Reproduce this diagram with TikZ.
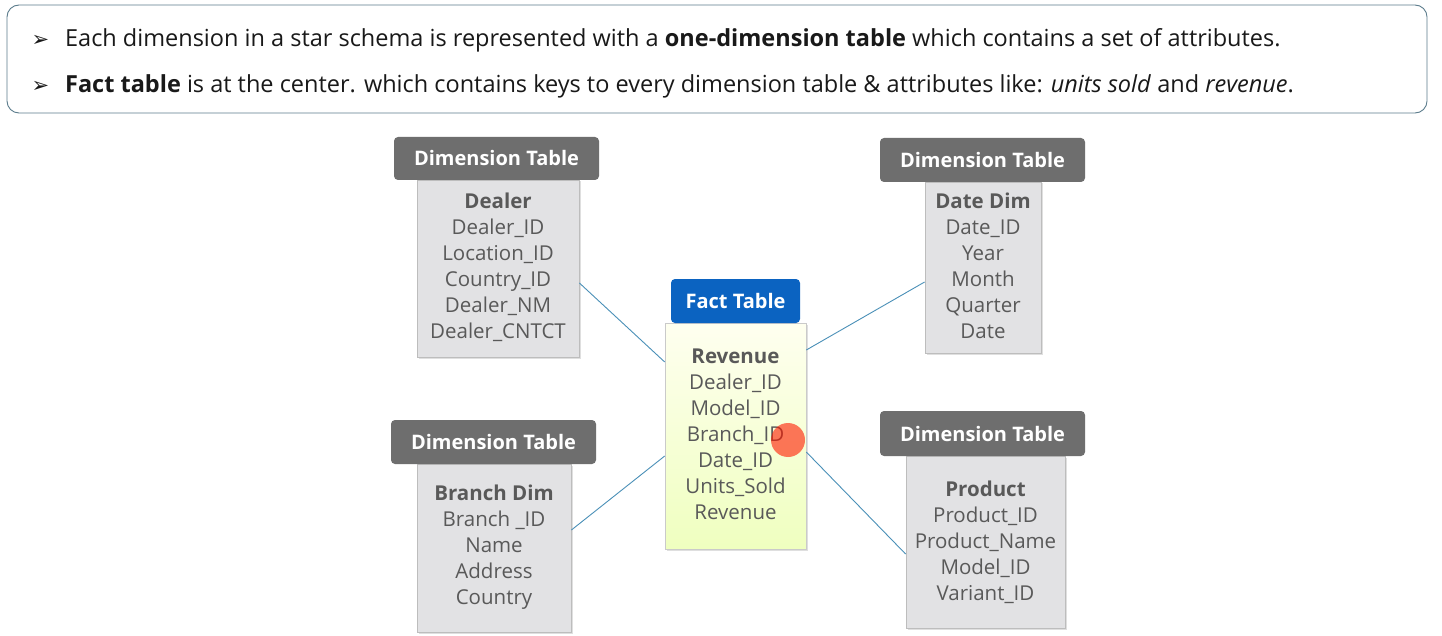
\documentclass[tikz,border=0pt]{standalone}
\usepackage{fontspec}
\setmainfont{Open Sans}
\newfontfamily\symfont{DejaVu Sans}
\usetikzlibrary{calc,shadows}
\definecolor{hdr}{HTML}{6E6E6E}
\definecolor{bodyg}{HTML}{E2E2E4}
\definecolor{bord}{HTML}{BDBDBD}
\definecolor{factb}{HTML}{0B63C1}
\definecolor{txt}{HTML}{595959}
\definecolor{frame}{HTML}{5B7C8C}
\definecolor{conn}{HTML}{4A90B8}
\begin{document}
\begin{tikzpicture}[x=1pt,y=-1pt,
  hdrbox/.style={fill=hdr,rounded corners=4pt,text=white,font=\fontsize{20}{22}\selectfont\bfseries,inner sep=0pt},
  bodybox/.style={fill=bodyg,draw=bord,line width=0.8pt,drop shadow={shadow xshift=1.5pt,shadow yshift=-1.5pt,opacity=0.25}},
  lines/.style={text=txt,align=center,font=\fontsize{20.5}{26}\selectfont,inner sep=0pt,anchor=center},
  conn/.style={draw=conn,line width=0.9pt}]
\useasboundingbox (0,0) rectangle (1442,636);
\fill[white] (0,0) rectangle (1442,636);
\node[draw=frame,line width=0.9pt,rounded corners=12pt,minimum width=1420,minimum height=108,inner sep=0pt] (frame) at (717,59) {};
\node[anchor=west,font=\fontsize{23.5}{26}\selectfont,text=black!90] (l1) at (28,40) {{\symfont\fontsize{21}{22}\selectfont ➢}\hspace{16pt}Each dimension in a star schema is represented with a \textbf{one-dimension table} which contains a set of attributes.};
\node[anchor=west,font=\fontsize{23.5}{26}\selectfont,text=black!90] (l2) at (28,86) {{\symfont\fontsize{21}{22}\selectfont ➢}\hspace{16pt}\textbf{Fact table} is at the center. which contains keys to every dimension table \& attributes like: \textit{units sold} and \textit{revenue}.};
% Dealer
\node[bodybox,minimum width=162,minimum height=177,inner sep=0pt] (dealer) at (498,268.5) {};
\node[hdrbox,minimum width=205,minimum height=43] (dealerh) at (496.5,158.5) {Dimension Table};
\node[lines] (dealert) at (498,267.5) {\textbf{Dealer}\\Dealer\_ID\\Location\_ID\\Country\_ID\\Dealer\_NM\\Dealer\_CNTCT};
% Date
\node[bodybox,minimum width=116,minimum height=171,inner sep=0pt] (date) at (983,267.5) {};
\node[hdrbox,minimum width=205,minimum height=44] (dateh) at (982.5,160) {Dimension Table};
\node[lines] (datet) at (983,266) {\textbf{Date Dim}\\Date\_ID\\Year\\Month\\Quarter\\Date};
% Branch
\node[bodybox,minimum width=154,minimum height=168,inner sep=0pt] (branch) at (494,548) {};
\node[hdrbox,minimum width=205,minimum height=44] (branchh) at (493.5,442) {Dimension Table};
\node[lines] (brancht) at (494,547) {\textbf{Branch Dim}\\Branch \_ID\\Name\\Address\\Country};
% Product
\node[bodybox,minimum width=159,minimum height=172,inner sep=0pt] (prod) at (985.5,542) {};
\node[hdrbox,minimum width=205,minimum height=45] (prodh) at (982.5,433.5) {Dimension Table};
\node[lines] (prodt) at (985.5,542.5) {\textbf{Product}\\Product\_ID\\Product\_Name\\Model\_ID\\Variant\_ID};
% Fact
\shade[top color=green!4!yellow!6,bottom color=green!25!yellow!25,drop shadow={shadow xshift=1.5pt,shadow yshift=-1.5pt,opacity=0.25}] (665,323) rectangle (806,549);
\node[draw=bord!80,line width=0.6pt,minimum width=141,minimum height=226,inner sep=0pt] (fact) at (735.5,436) {};
\node[fill=factb,rounded corners=4pt,text=white,font=\fontsize{20}{22}\selectfont\bfseries,minimum width=129,minimum height=44,inner sep=0pt] (facth) at (735.5,301) {Fact Table};
\node[lines] (factt) at (735.5,434.5) {\textbf{Revenue}\\Dealer\_ID\\Model\_ID\\Branch\_ID\\Date\_ID\\Units\_Sold\\Revenue};
% connectors
\draw[conn] ([yshift=-14.5]dealer.east) -- ([yshift=74]fact.west);
\draw[conn] ([yshift=-14.5]date.west) -- ([yshift=86]fact.east);
\draw[conn] ([yshift=18]branch.east) -- ([yshift=-20]fact.west);
\draw[conn] ([yshift=-12]prod.west) -- ([yshift=-16]fact.east);
\fill[red!80!orange,opacity=0.6] (788,440) circle (17);
\end{tikzpicture}
\end{document}
